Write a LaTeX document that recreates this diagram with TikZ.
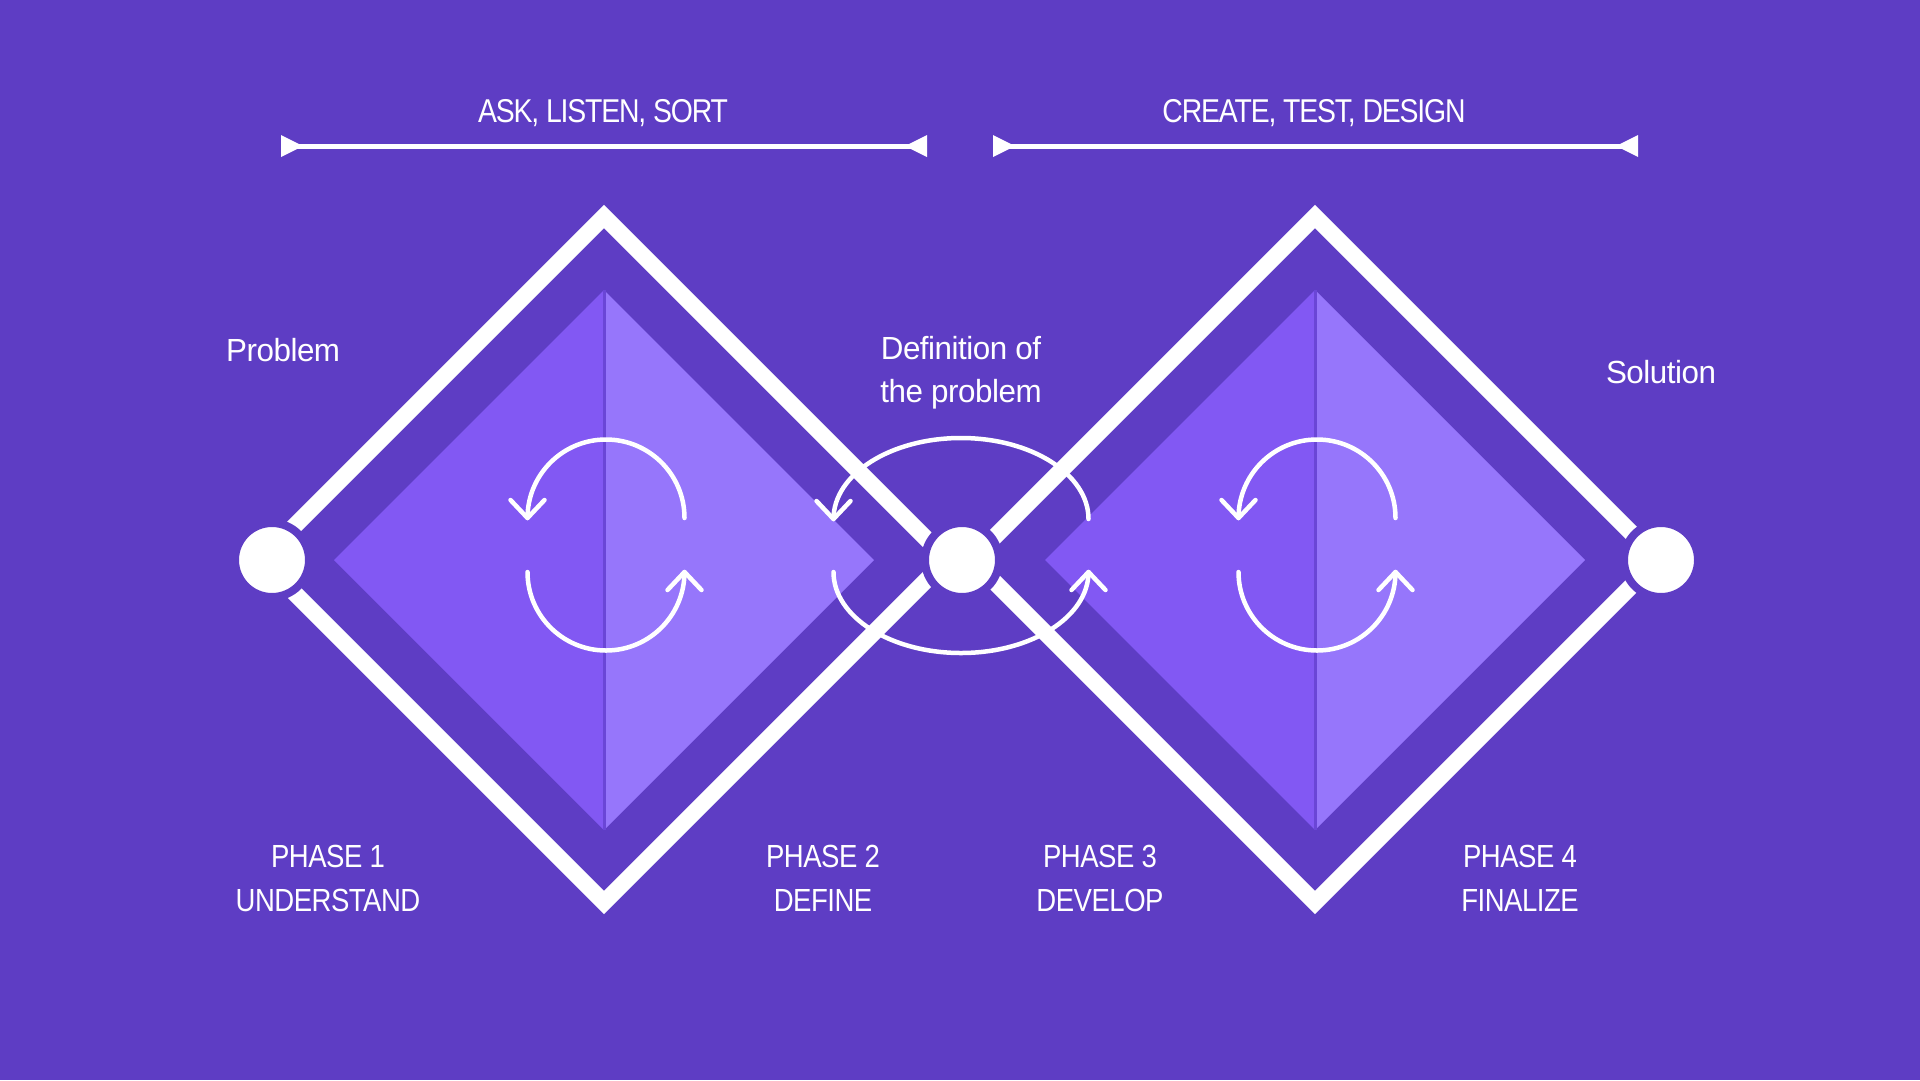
\documentclass[tikz,border=0pt]{standalone}
\usepackage{fontspec}
\setmainfont{Liberation Sans}[FakeStretch=0.86,LetterSpace=-1.5]
\newfontfamily\lcfont{Liberation Sans}[FakeStretch=0.98,LetterSpace=-1.5]
\newfontfamily\hdfont{Liberation Sans}[FakeStretch=0.86,LetterSpace=-3.5]
\definecolor{bg}{HTML}{5E3DC4}
\definecolor{fillL}{HTML}{8258F3}
\definecolor{fillR}{HTML}{9676FB}
\definecolor{divc}{HTML}{6A46D6}
\tikzset{
  outline/.style={draw=white, line width=16.5pt, line join=miter},
  cyc/.style={draw=white, line width=4.5pt, line cap=round, line join=round},
  dot/.style={circle, inner sep=0pt, minimum size=74pt, fill=white, draw=bg, line width=8pt},
  lbl/.style={text=white, font=\fontsize{32}{44}\selectfont, inner sep=0pt, align=center},
  lcl/.style={text=white, font=\lcfont\fontsize{32}{43}\selectfont, inner sep=0pt, align=center},
  head/.style={text=white, font=\hdfont\fontsize{33}{40}\selectfont, inner sep=0pt},
  bar/.style={draw=white, line width=5pt},
  tri/.style={fill=white}
}
\newcommand\cycarrows[5]{%
  \draw[cyc] ({#1+#4},#2) arc[start angle=0,end angle=-180,x radius=#4,y radius=#5];
  \draw[cyc] ({#1-#4-17},{#2-18}) -- ({#1-#4},#2) -- ({#1-#4+17},{#2-18});
  \draw[cyc] ({#1-#4},#3) arc[start angle=180,end angle=0,x radius=#4,y radius=#5];
  \draw[cyc] ({#1+#4-17},{#3+18}) -- ({#1+#4},#3) -- ({#1+#4+17},{#3+18});
}
\newcommand\innerdmd[1]{%
  \fill[fillL] (#1,290) -- (#1,830) -- ({#1-270},560) -- cycle;
  \fill[fillR] (#1,290) -- ({#1+270},560) -- (#1,830) -- cycle;
  \draw[divc, line width=3pt] (#1,290) -- (#1,830);
}
\newcommand\outerdmd[1]{%
  \draw[outline] (#1,216.5) -- ({#1+343},559.5) -- (#1,902.5) -- ({#1-343},559.5) -- cycle;
}
\begin{document}
\begin{tikzpicture}[x=1pt,y=-1pt]
  \fill[bg] (0,0) rectangle (1920,1080);
  \useasboundingbox (0,0) rectangle (1920,1080);

  % inner fills
  \innerdmd{604}
  \innerdmd{1315}

  % cycle arrows
  \cycarrows{606}{518}{572}{78.5}{78.5}
  \cycarrows{1317}{518}{572}{78.5}{78.5}

  % outlines
  \outerdmd{604}
  \outerdmd{1315}

  % ellipse cycle around centre
  \cycarrows{961}{519}{572}{127.5}{81}

  % dots
  \node[dot] (start) at (272,560) {};
  \node[dot] (mid) at (962,560) {};
  \node[dot] (end) at (1661,560) {};

  % top bars
  \coordinate (b1l) at (281,146);
  \coordinate (b1r) at (927,146);
  \coordinate (b2l) at (993,146);
  \coordinate (b2r) at (1638,146);
  \draw[bar] (b1l) -- (b1r);
  \draw[bar] (b2l) -- (b2r);
  \fill[tri] (b1l) ++(0,-11) -- ++(22,11) -- ++(-22,11) -- cycle;
  \fill[tri] (b1r) ++(0,-11) -- ++(-22,11) -- ++(22,11) -- cycle;
  \fill[tri] (b2l) ++(0,-11) -- ++(22,11) -- ++(-22,11) -- cycle;
  \fill[tri] (b2r) ++(0,-11) -- ++(-22,11) -- ++(22,11) -- cycle;

  \node[head, anchor=base] (h1) at (603,122) {ASK, LISTEN, SORT};
  \node[head, anchor=base] (h2) at (1314,122) {CREATE, TEST, DESIGN};

  % labels
  \node[lcl, anchor=base west] (problem) at (226,361) {Problem};
  \node[lcl, anchor=base] (defn) at (961,402) {Definition of\\the problem};
  \node[lcl, anchor=base] (solution) at (1661,383) {Solution};

  \node[lbl, anchor=base] (p1) at (328,911) {PHASE 1\\UNDERSTAND};
  \node[lbl, anchor=base] (p2) at (823,911) {PHASE 2\\DEFINE};
  \node[lbl, anchor=base] (p3) at (1100,911) {PHASE 3\\DEVELOP};
  \node[lbl, anchor=base] (p4) at (1520,911) {PHASE 4\\FINALIZE};
\end{tikzpicture}
\end{document}
